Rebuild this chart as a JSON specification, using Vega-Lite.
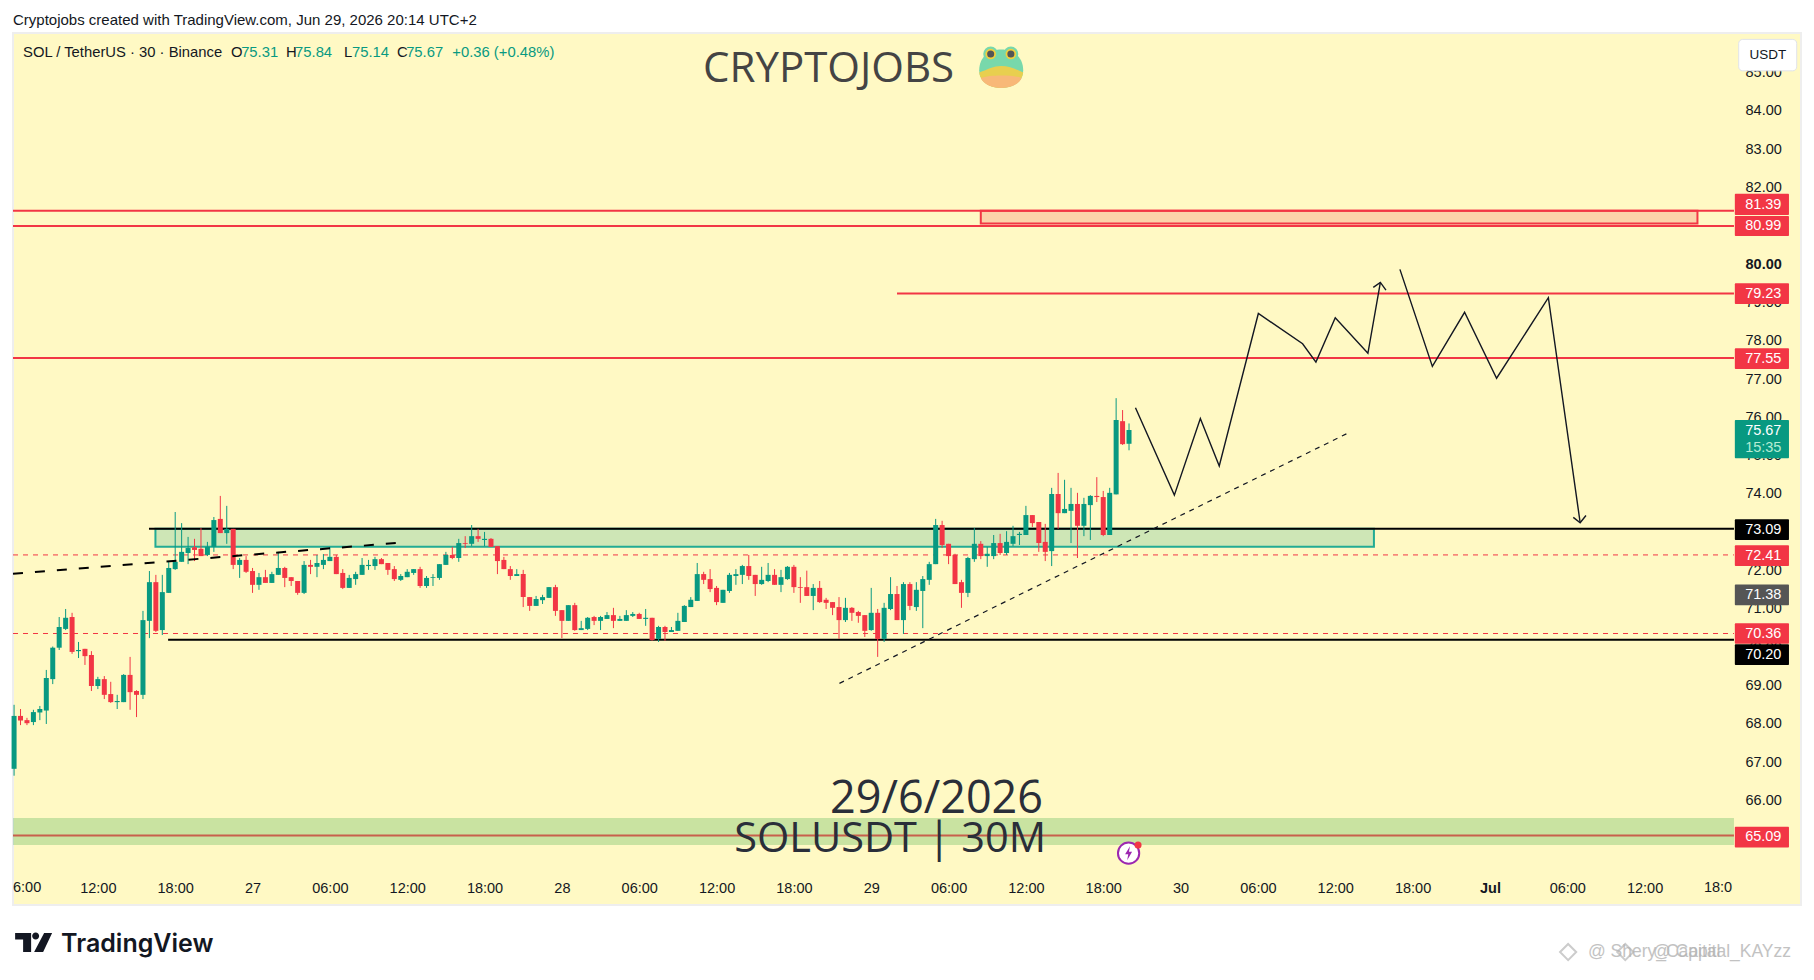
{
  "$schema": "https://vega.github.io/schema/vega-lite/v6.json",
  "autosize": {"type": "none"},
  "padding": {"left": 13, "top": 33, "right": 13, "bottom": 75},
  "width": 1788,
  "height": 872,
  "background": "#ffffff",
  "view": {"fill": "#fff9c4", "stroke": "#eeeeee", "strokeWidth": 2},
  "config": {"font": "Liberation Sans"},
  "datasets": {
    "candles": [
      {"t":"2026-06-26T05:30Z","o":66.83,"h":68.50,"l":66.65,"c":68.21},
      {"t":"2026-06-26T06:00Z","o":68.21,"h":68.39,"l":67.97,"c":68.09},
      {"t":"2026-06-26T06:30Z","o":68.10,"h":68.16,"l":67.97,"c":68.02},
      {"t":"2026-06-26T07:00Z","o":68.05,"h":68.37,"l":67.97,"c":68.31},
      {"t":"2026-06-26T07:30Z","o":68.30,"h":68.47,"l":68.10,"c":68.39},
      {"t":"2026-06-26T08:00Z","o":68.35,"h":69.41,"l":68.00,"c":69.20},
      {"t":"2026-06-26T08:30Z","o":69.17,"h":70.02,"l":69.04,"c":69.99},
      {"t":"2026-06-26T09:00Z","o":69.99,"h":70.79,"l":69.93,"c":70.53},
      {"t":"2026-06-26T09:30Z","o":70.48,"h":71.00,"l":70.45,"c":70.77},
      {"t":"2026-06-26T10:00Z","o":70.79,"h":70.90,"l":69.83,"c":69.88},
      {"t":"2026-06-26T10:30Z","o":69.90,"h":70.14,"l":69.72,"c":69.93},
      {"t":"2026-06-26T11:00Z","o":69.96,"h":69.96,"l":69.54,"c":69.77},
      {"t":"2026-06-26T11:30Z","o":69.80,"h":69.90,"l":68.86,"c":68.99},
      {"t":"2026-06-26T12:00Z","o":68.99,"h":69.23,"l":68.91,"c":69.17},
      {"t":"2026-06-26T12:30Z","o":69.17,"h":69.25,"l":68.65,"c":68.76},
      {"t":"2026-06-26T13:00Z","o":68.78,"h":69.10,"l":68.55,"c":68.57},
      {"t":"2026-06-26T13:30Z","o":68.57,"h":68.76,"l":68.39,"c":68.60},
      {"t":"2026-06-26T14:00Z","o":68.57,"h":69.30,"l":68.57,"c":69.28},
      {"t":"2026-06-26T14:30Z","o":69.28,"h":69.75,"l":68.37,"c":68.83},
      {"t":"2026-06-26T15:00Z","o":68.86,"h":68.88,"l":68.18,"c":68.76},
      {"t":"2026-06-26T15:30Z","o":68.76,"h":70.95,"l":68.65,"c":70.71},
      {"t":"2026-06-26T16:00Z","o":70.69,"h":71.99,"l":70.24,"c":71.70},
      {"t":"2026-06-26T16:30Z","o":71.70,"h":71.89,"l":70.40,"c":70.43},
      {"t":"2026-06-26T17:00Z","o":70.45,"h":71.89,"l":70.32,"c":71.44},
      {"t":"2026-06-26T17:30Z","o":71.42,"h":72.23,"l":71.42,"c":72.07},
      {"t":"2026-06-26T18:00Z","o":72.04,"h":73.53,"l":72.02,"c":72.23},
      {"t":"2026-06-26T18:30Z","o":72.23,"h":73.24,"l":72.23,"c":72.49},
      {"t":"2026-06-26T19:00Z","o":72.46,"h":72.88,"l":72.17,"c":72.59},
      {"t":"2026-06-26T19:30Z","o":72.61,"h":72.83,"l":72.25,"c":72.54},
      {"t":"2026-06-26T20:00Z","o":72.57,"h":73.11,"l":72.38,"c":72.38},
      {"t":"2026-06-26T20:30Z","o":72.41,"h":72.75,"l":72.38,"c":72.62},
      {"t":"2026-06-26T21:00Z","o":72.62,"h":73.40,"l":72.49,"c":73.32},
      {"t":"2026-06-26T21:30Z","o":73.35,"h":73.95,"l":72.98,"c":72.98},
      {"t":"2026-06-26T22:00Z","o":72.98,"h":73.69,"l":72.70,"c":73.09},
      {"t":"2026-06-26T22:30Z","o":73.09,"h":73.09,"l":72.04,"c":72.15},
      {"t":"2026-06-26T23:00Z","o":72.15,"h":72.33,"l":71.81,"c":72.28},
      {"t":"2026-06-26T23:30Z","o":72.28,"h":72.38,"l":71.94,"c":71.97},
      {"t":"2026-06-27T00:00Z","o":71.99,"h":72.07,"l":71.42,"c":71.63},
      {"t":"2026-06-27T00:30Z","o":71.63,"h":71.94,"l":71.50,"c":71.83},
      {"t":"2026-06-27T01:00Z","o":71.83,"h":72.02,"l":71.68,"c":71.68},
      {"t":"2026-06-27T01:30Z","o":71.68,"h":71.97,"l":71.68,"c":71.91},
      {"t":"2026-06-27T02:00Z","o":71.89,"h":72.49,"l":71.89,"c":72.07},
      {"t":"2026-06-27T02:30Z","o":72.07,"h":72.10,"l":71.57,"c":71.81},
      {"t":"2026-06-27T03:00Z","o":71.83,"h":71.83,"l":71.60,"c":71.73},
      {"t":"2026-06-27T03:30Z","o":71.73,"h":71.73,"l":71.37,"c":71.42},
      {"t":"2026-06-27T04:00Z","o":71.42,"h":72.25,"l":71.39,"c":72.15},
      {"t":"2026-06-27T04:30Z","o":72.15,"h":72.28,"l":71.91,"c":72.10},
      {"t":"2026-06-27T05:00Z","o":72.10,"h":72.41,"l":71.83,"c":72.20},
      {"t":"2026-06-27T05:30Z","o":72.15,"h":72.43,"l":72.04,"c":72.28},
      {"t":"2026-06-27T06:00Z","o":72.25,"h":72.62,"l":72.25,"c":72.36},
      {"t":"2026-06-27T06:30Z","o":72.36,"h":72.41,"l":71.91,"c":71.91},
      {"t":"2026-06-27T07:00Z","o":71.94,"h":72.04,"l":71.52,"c":71.55},
      {"t":"2026-06-27T07:30Z","o":71.55,"h":71.89,"l":71.55,"c":71.81},
      {"t":"2026-06-27T08:00Z","o":71.78,"h":71.97,"l":71.63,"c":71.91},
      {"t":"2026-06-27T08:30Z","o":71.89,"h":72.33,"l":71.89,"c":72.15},
      {"t":"2026-06-27T09:00Z","o":72.12,"h":72.28,"l":72.02,"c":72.15},
      {"t":"2026-06-27T09:30Z","o":72.12,"h":72.36,"l":72.02,"c":72.30},
      {"t":"2026-06-27T10:00Z","o":72.30,"h":72.33,"l":72.17,"c":72.17},
      {"t":"2026-06-27T10:30Z","o":72.20,"h":72.20,"l":71.89,"c":72.02},
      {"t":"2026-06-27T11:00Z","o":72.04,"h":72.12,"l":71.73,"c":71.78},
      {"t":"2026-06-27T11:30Z","o":71.76,"h":71.91,"l":71.73,"c":71.86},
      {"t":"2026-06-27T12:00Z","o":71.83,"h":72.04,"l":71.83,"c":71.97},
      {"t":"2026-06-27T12:30Z","o":71.94,"h":72.04,"l":71.89,"c":72.04},
      {"t":"2026-06-27T13:00Z","o":72.04,"h":72.10,"l":71.55,"c":71.60},
      {"t":"2026-06-27T13:30Z","o":71.60,"h":71.86,"l":71.55,"c":71.81},
      {"t":"2026-06-27T14:00Z","o":71.81,"h":71.91,"l":71.60,"c":71.83},
      {"t":"2026-06-27T14:30Z","o":71.81,"h":72.17,"l":71.76,"c":72.17},
      {"t":"2026-06-27T15:00Z","o":72.15,"h":72.49,"l":72.15,"c":72.41},
      {"t":"2026-06-27T15:30Z","o":72.41,"h":72.62,"l":72.30,"c":72.33},
      {"t":"2026-06-27T16:00Z","o":72.33,"h":72.83,"l":72.23,"c":72.72},
      {"t":"2026-06-27T16:30Z","o":72.72,"h":72.90,"l":72.59,"c":72.70},
      {"t":"2026-06-27T17:00Z","o":72.70,"h":73.19,"l":72.64,"c":72.90},
      {"t":"2026-06-27T17:30Z","o":72.90,"h":73.09,"l":72.75,"c":72.83},
      {"t":"2026-06-27T18:00Z","o":72.80,"h":73.01,"l":72.64,"c":72.83},
      {"t":"2026-06-27T18:30Z","o":72.83,"h":72.85,"l":72.62,"c":72.62},
      {"t":"2026-06-27T19:00Z","o":72.64,"h":72.64,"l":71.91,"c":72.25},
      {"t":"2026-06-27T19:30Z","o":72.28,"h":72.36,"l":72.04,"c":72.04},
      {"t":"2026-06-27T20:00Z","o":72.04,"h":72.12,"l":71.76,"c":71.86},
      {"t":"2026-06-27T20:30Z","o":71.86,"h":72.04,"l":71.86,"c":71.91},
      {"t":"2026-06-27T21:00Z","o":71.91,"h":72.02,"l":71.05,"c":71.31},
      {"t":"2026-06-27T21:30Z","o":71.31,"h":71.31,"l":70.95,"c":71.08},
      {"t":"2026-06-27T22:00Z","o":71.08,"h":71.34,"l":71.08,"c":71.26},
      {"t":"2026-06-27T22:30Z","o":71.23,"h":71.37,"l":71.13,"c":71.31},
      {"t":"2026-06-27T23:00Z","o":71.29,"h":71.57,"l":71.29,"c":71.57},
      {"t":"2026-06-27T23:30Z","o":71.57,"h":71.63,"l":70.82,"c":70.95},
      {"t":"2026-06-28T00:00Z","o":70.97,"h":70.97,"l":70.24,"c":70.69},
      {"t":"2026-06-28T00:30Z","o":70.69,"h":71.10,"l":70.69,"c":71.10},
      {"t":"2026-06-28T01:00Z","o":71.10,"h":71.16,"l":70.43,"c":70.45},
      {"t":"2026-06-28T01:30Z","o":70.45,"h":70.69,"l":70.45,"c":70.50},
      {"t":"2026-06-28T02:00Z","o":70.48,"h":70.79,"l":70.45,"c":70.77},
      {"t":"2026-06-28T02:30Z","o":70.79,"h":70.82,"l":70.58,"c":70.69},
      {"t":"2026-06-28T03:00Z","o":70.69,"h":70.82,"l":70.45,"c":70.79},
      {"t":"2026-06-28T03:30Z","o":70.74,"h":70.92,"l":70.74,"c":70.84},
      {"t":"2026-06-28T04:00Z","o":70.84,"h":71.03,"l":70.50,"c":70.69},
      {"t":"2026-06-28T04:30Z","o":70.69,"h":70.82,"l":70.69,"c":70.74},
      {"t":"2026-06-28T05:00Z","o":70.69,"h":70.97,"l":70.69,"c":70.84},
      {"t":"2026-06-28T05:30Z","o":70.82,"h":70.92,"l":70.79,"c":70.87},
      {"t":"2026-06-28T06:00Z","o":70.87,"h":70.90,"l":70.74,"c":70.74},
      {"t":"2026-06-28T06:30Z","o":70.74,"h":71.00,"l":70.56,"c":70.77},
      {"t":"2026-06-28T07:00Z","o":70.77,"h":70.77,"l":70.17,"c":70.19},
      {"t":"2026-06-28T07:30Z","o":70.22,"h":70.56,"l":70.14,"c":70.53},
      {"t":"2026-06-28T08:00Z","o":70.53,"h":70.56,"l":70.17,"c":70.40},
      {"t":"2026-06-28T08:30Z","o":70.40,"h":70.53,"l":70.40,"c":70.45},
      {"t":"2026-06-28T09:00Z","o":70.43,"h":70.90,"l":70.43,"c":70.69},
      {"t":"2026-06-28T09:30Z","o":70.66,"h":71.10,"l":70.66,"c":71.08},
      {"t":"2026-06-28T10:00Z","o":71.05,"h":71.31,"l":71.05,"c":71.24},
      {"t":"2026-06-28T10:30Z","o":71.21,"h":72.20,"l":71.21,"c":71.91},
      {"t":"2026-06-28T11:00Z","o":71.91,"h":71.97,"l":71.65,"c":71.76},
      {"t":"2026-06-28T11:30Z","o":71.78,"h":72.04,"l":71.44,"c":71.52},
      {"t":"2026-06-28T12:00Z","o":71.55,"h":71.60,"l":71.10,"c":71.18},
      {"t":"2026-06-28T12:30Z","o":71.16,"h":71.50,"l":71.16,"c":71.50},
      {"t":"2026-06-28T13:00Z","o":71.47,"h":71.94,"l":71.42,"c":71.89},
      {"t":"2026-06-28T13:30Z","o":71.86,"h":72.04,"l":71.63,"c":71.91},
      {"t":"2026-06-28T14:00Z","o":71.89,"h":72.15,"l":71.65,"c":72.12},
      {"t":"2026-06-28T14:30Z","o":72.12,"h":72.41,"l":71.76,"c":71.86},
      {"t":"2026-06-28T15:00Z","o":71.89,"h":71.89,"l":71.34,"c":71.65},
      {"t":"2026-06-28T15:30Z","o":71.65,"h":72.10,"l":71.63,"c":71.76},
      {"t":"2026-06-28T16:00Z","o":71.73,"h":72.20,"l":71.70,"c":71.89},
      {"t":"2026-06-28T16:30Z","o":71.89,"h":72.04,"l":71.63,"c":71.63},
      {"t":"2026-06-28T17:00Z","o":71.63,"h":72.02,"l":71.44,"c":71.83},
      {"t":"2026-06-28T17:30Z","o":71.78,"h":72.12,"l":71.76,"c":72.10},
      {"t":"2026-06-28T18:00Z","o":72.10,"h":72.15,"l":71.42,"c":71.57},
      {"t":"2026-06-28T18:30Z","o":71.57,"h":71.83,"l":71.16,"c":71.55},
      {"t":"2026-06-28T19:00Z","o":71.57,"h":72.00,"l":71.34,"c":71.34},
      {"t":"2026-06-28T19:30Z","o":71.34,"h":71.65,"l":70.97,"c":71.55},
      {"t":"2026-06-28T20:00Z","o":71.55,"h":71.73,"l":71.16,"c":71.18},
      {"t":"2026-06-28T20:30Z","o":71.24,"h":71.29,"l":71.00,"c":71.16},
      {"t":"2026-06-28T21:00Z","o":71.18,"h":71.18,"l":70.84,"c":71.03},
      {"t":"2026-06-28T21:30Z","o":71.05,"h":71.31,"l":70.22,"c":70.71},
      {"t":"2026-06-28T22:00Z","o":70.71,"h":71.29,"l":70.66,"c":71.03},
      {"t":"2026-06-28T22:30Z","o":71.03,"h":71.05,"l":70.69,"c":70.90},
      {"t":"2026-06-28T23:00Z","o":70.92,"h":70.95,"l":70.64,"c":70.82},
      {"t":"2026-06-28T23:30Z","o":70.84,"h":70.84,"l":70.27,"c":70.43},
      {"t":"2026-06-29T00:00Z","o":70.45,"h":71.55,"l":70.43,"c":70.90},
      {"t":"2026-06-29T00:30Z","o":70.90,"h":71.00,"l":69.75,"c":70.22},
      {"t":"2026-06-29T01:00Z","o":70.22,"h":71.16,"l":70.14,"c":71.03},
      {"t":"2026-06-29T01:30Z","o":71.00,"h":71.83,"l":70.97,"c":71.39},
      {"t":"2026-06-29T02:00Z","o":71.39,"h":71.60,"l":70.71,"c":70.71},
      {"t":"2026-06-29T02:30Z","o":70.71,"h":71.70,"l":70.35,"c":71.65},
      {"t":"2026-06-29T03:00Z","o":71.65,"h":71.70,"l":70.97,"c":71.08},
      {"t":"2026-06-29T03:30Z","o":71.05,"h":71.70,"l":70.95,"c":71.50},
      {"t":"2026-06-29T04:00Z","o":71.47,"h":71.86,"l":70.50,"c":71.78},
      {"t":"2026-06-29T04:30Z","o":71.76,"h":72.23,"l":71.63,"c":72.17},
      {"t":"2026-06-29T05:00Z","o":72.17,"h":73.35,"l":72.17,"c":73.19},
      {"t":"2026-06-29T05:30Z","o":73.19,"h":73.30,"l":72.59,"c":72.67},
      {"t":"2026-06-29T06:00Z","o":72.70,"h":72.70,"l":72.17,"c":72.38},
      {"t":"2026-06-29T06:30Z","o":72.41,"h":72.44,"l":71.65,"c":71.65},
      {"t":"2026-06-29T07:00Z","o":71.70,"h":71.76,"l":71.03,"c":71.42},
      {"t":"2026-06-29T07:30Z","o":71.42,"h":72.36,"l":71.31,"c":72.33},
      {"t":"2026-06-29T08:00Z","o":72.30,"h":73.11,"l":72.23,"c":72.70},
      {"t":"2026-06-29T08:30Z","o":72.70,"h":72.77,"l":72.30,"c":72.38},
      {"t":"2026-06-29T09:00Z","o":72.38,"h":72.62,"l":72.10,"c":72.44},
      {"t":"2026-06-29T09:30Z","o":72.38,"h":72.93,"l":72.30,"c":72.72},
      {"t":"2026-06-29T10:00Z","o":72.72,"h":72.96,"l":72.41,"c":72.46},
      {"t":"2026-06-29T10:30Z","o":72.46,"h":73.03,"l":72.41,"c":72.75},
      {"t":"2026-06-29T11:00Z","o":72.70,"h":73.17,"l":72.64,"c":72.90},
      {"t":"2026-06-29T11:30Z","o":72.93,"h":73.01,"l":72.67,"c":72.96},
      {"t":"2026-06-29T12:00Z","o":72.93,"h":73.69,"l":72.93,"c":73.45},
      {"t":"2026-06-29T12:30Z","o":73.45,"h":73.45,"l":73.14,"c":73.24},
      {"t":"2026-06-29T13:00Z","o":73.27,"h":73.27,"l":72.49,"c":72.72},
      {"t":"2026-06-29T13:30Z","o":72.75,"h":73.22,"l":72.25,"c":72.49},
      {"t":"2026-06-29T14:00Z","o":72.51,"h":74.16,"l":72.12,"c":74.00},
      {"t":"2026-06-29T14:30Z","o":74.00,"h":74.55,"l":73.09,"c":73.50},
      {"t":"2026-06-29T15:00Z","o":73.50,"h":74.37,"l":73.50,"c":73.61},
      {"t":"2026-06-29T15:30Z","o":73.56,"h":74.16,"l":72.72,"c":73.74},
      {"t":"2026-06-29T16:00Z","o":73.74,"h":74.03,"l":72.33,"c":73.17},
      {"t":"2026-06-29T16:30Z","o":73.17,"h":73.90,"l":72.90,"c":73.74},
      {"t":"2026-06-29T17:00Z","o":73.71,"h":73.97,"l":72.80,"c":73.95},
      {"t":"2026-06-29T17:30Z","o":73.95,"h":74.44,"l":73.79,"c":73.92},
      {"t":"2026-06-29T18:00Z","o":73.92,"h":74.08,"l":72.90,"c":72.93},
      {"t":"2026-06-29T18:30Z","o":72.93,"h":74.16,"l":72.93,"c":74.03},
      {"t":"2026-06-29T19:00Z","o":73.99,"h":76.50,"l":73.99,"c":75.93},
      {"t":"2026-06-29T19:30Z","o":75.90,"h":76.19,"l":75.28,"c":75.30},
      {"t":"2026-06-29T20:00Z","o":75.31,"h":75.84,"l":75.14,"c":75.67}
    ],
    "wave": [
      {"leg":"a","t":"2026-06-29T20:30Z","p":76.25},
      {"leg":"a","t":"2026-06-29T23:31Z","p":73.97},
      {"leg":"a","t":"2026-06-30T01:32Z","p":75.97},
      {"leg":"a","t":"2026-06-30T03:00Z","p":74.73},
      {"leg":"a","t":"2026-06-30T06:02Z","p":78.71},
      {"leg":"a","t":"2026-06-30T09:28Z","p":77.92},
      {"leg":"a","t":"2026-06-30T10:30Z","p":77.44},
      {"leg":"a","t":"2026-06-30T12:00Z","p":78.60},
      {"leg":"a","t":"2026-06-30T14:32Z","p":77.67},
      {"leg":"a","t":"2026-06-30T15:30Z","p":79.52},
      {"leg":"a-head","t":"2026-06-30T14:57Z","p":79.39},
      {"leg":"a-head","t":"2026-06-30T15:30Z","p":79.52},
      {"leg":"a-head","t":"2026-06-30T15:56Z","p":79.32},
      {"leg":"b","t":"2026-06-30T17:01Z","p":79.86},
      {"leg":"b","t":"2026-06-30T19:32Z","p":77.33},
      {"leg":"b","t":"2026-06-30T22:02Z","p":78.74},
      {"leg":"b","t":"2026-07-01T00:31Z","p":77.02},
      {"leg":"b","t":"2026-07-01T04:32Z","p":79.12},
      {"leg":"b","t":"2026-07-01T07:00Z","p":73.25},
      {"leg":"b-head","t":"2026-07-01T06:28Z","p":73.39},
      {"leg":"b-head","t":"2026-07-01T07:00Z","p":73.25},
      {"leg":"b-head","t":"2026-07-01T07:27Z","p":73.44}
    ]
  },
  "encoding": {
    "x": {
      "field": "t",
      "type": "temporal",
      "title": null,
      "scale": {"type": "utc", "padding": 0, "domain": ["2026-06-26T05:25:00Z", "2026-07-02T00:08:00Z"]},
      "axis": {
        "orient": "bottom",
        "offset": -17,
        "domain": false,
        "ticks": false,
        "grid": false,
        "labelPadding": 0,
        "labelBaseline": "middle",
        "labelFontSize": 14.5,
        "labelColor": "#131722",
        "labelOverlap": false,
        "labelFlush": false,
        "labelBound": false,
        "labelFontWeight": {"condition": {"test": "utcdate(datum.value) === 1 && utchours(datum.value) === 0", "value": "bold"}, "value": "normal"},
        "values": [
          "2026-06-26T12:00:00Z","2026-06-26T18:00:00Z","2026-06-27T00:00:00Z","2026-06-27T06:00:00Z","2026-06-27T12:00:00Z","2026-06-27T18:00:00Z",
          "2026-06-28T00:00:00Z","2026-06-28T06:00:00Z","2026-06-28T12:00:00Z","2026-06-28T18:00:00Z",
          "2026-06-29T00:00:00Z","2026-06-29T06:00:00Z","2026-06-29T12:00:00Z","2026-06-29T18:00:00Z",
          "2026-06-30T00:00:00Z","2026-06-30T06:00:00Z","2026-06-30T12:00:00Z","2026-06-30T18:00:00Z",
          "2026-07-01T00:00:00Z","2026-07-01T06:00:00Z","2026-07-01T12:00:00Z"
        ],
        "labelExpr": "utchours(datum.value) === 0 ? (utcdate(datum.value) === 1 ? 'Jul' : '' + utcdate(datum.value)) : utcFormat(datum.value, '%H:%M')"
      }
    },
    "y": {
      "field": "p",
      "type": "quantitative",
      "title": null,
      "scale": {"domain": [63.277, 86.027], "nice": false, "zero": false},
      "axis": {
        "orient": "right",
        "offset": -56,
        "domain": false,
        "ticks": false,
        "grid": false,
        "labelPadding": 0,
        "labelAlign": "left",
        "labelFontSize": 14.5,
        "labelColor": "#131722",
        "labelOverlap": false,
        "labelFlush": false,
        "labelBound": false,
        "labelFontWeight": {"condition": {"test": "datum.value === 80", "value": "bold"}, "value": "normal"},
        "format": ".2f",
        "values": [66,67,68,69,70,71,72,73,74,75,76,77,78,79,80,81,82,83,84,85]
      }
    }
  },
  "layer": [
    {
      "data": {"values": [{"t":"2026-06-26T05:25Z","t2":"2026-07-01T18:56Z","p":65.55,"p2":64.84}], "format": {"parse": {"t":"date","t2":"date"}}},
      "mark": {"type": "rect", "fill": "#4caf50", "fillOpacity": 0.3},
      "encoding": {"x2": {"field": "t2"}, "y2": {"field": "p2"}}
    },
    {
      "data": {"values": [{"t":"2026-06-26T16:28Z","t2":"2026-06-30T15:00Z","p":73.09,"p2":72.625}], "format": {"parse": {"t":"date","t2":"date"}}},
      "mark": {"type": "rect", "fill": "#089981", "fillOpacity": 0.2, "stroke": "#22ab94", "strokeWidth": 2},
      "encoding": {"x2": {"field": "t2"}, "y2": {"field": "p2"}}
    },
    {
      "data": {"values": [{"t":"2026-06-29T08:30Z","t2":"2026-07-01T16:06Z","p":81.39,"p2":81.06}], "format": {"parse": {"t":"date","t2":"date"}}},
      "mark": {"type": "rect", "fill": "#f23645", "fillOpacity": 0.2, "stroke": "#f23645", "strokeWidth": 2},
      "encoding": {"x2": {"field": "t2"}, "y2": {"field": "p2"}}
    },
    {
      "data": {"values": [
        {"t":"2026-06-26T05:25Z","t2":"2026-07-01T18:56Z","p":81.39},
        {"t":"2026-06-26T05:25Z","t2":"2026-07-01T18:56Z","p":80.99},
        {"t":"2026-06-29T02:00Z","t2":"2026-07-01T18:56Z","p":79.23},
        {"t":"2026-06-26T05:25Z","t2":"2026-07-01T18:56Z","p":77.55}
      ], "format": {"parse": {"t":"date","t2":"date"}}},
      "mark": {"type": "rule", "color": "#f23645", "strokeWidth": 2},
      "encoding": {"x2": {"field": "t2"}}
    },
    {
      "data": {"values": [
        {"t":"2026-06-26T05:25Z","t2":"2026-07-01T18:56Z","p":72.41},
        {"t":"2026-06-26T05:25Z","t2":"2026-07-01T18:56Z","p":70.36}
      ], "format": {"parse": {"t":"date","t2":"date"}}},
      "mark": {"type": "rule", "color": "#f23645", "strokeWidth": 1, "strokeDash": [5, 5]},
      "encoding": {"x2": {"field": "t2"}}
    },
    {
      "data": {"values": [
        {"t":"2026-06-26T15:58Z","t2":"2026-07-01T18:56Z","p":73.09},
        {"t":"2026-06-26T17:27Z","t2":"2026-07-01T18:56Z","p":70.20}
      ], "format": {"parse": {"t":"date","t2":"date"}}},
      "mark": {"type": "rule", "color": "#000000", "strokeWidth": 2},
      "encoding": {"x2": {"field": "t2"}}
    },
    {
      "data": {"values": [{"t":"2026-06-26T05:25Z","t2":"2026-07-01T18:56Z","p":65.09}], "format": {"parse": {"t":"date","t2":"date"}}},
      "mark": {"type": "rule", "color": "#c8604c", "strokeWidth": 2},
      "encoding": {"x2": {"field": "t2"}}
    },
    {
      "data": {"name": "candles"},
      "mark": {"type": "rule", "strokeWidth": 1},
      "encoding": {
        "y": {"field": "l", "type": "quantitative", "title": null, "scale": {"domain": [63.277, 86.027], "nice": false, "zero": false}},
        "y2": {"field": "h"},
        "color": {"condition": {"test": "datum.c >= datum.o", "value": "#089981"}, "value": "#f23645"}
      }
    },
    {
      "data": {"name": "candles"},
      "mark": {"type": "bar", "size": 5},
      "encoding": {
        "y": {"field": "o", "type": "quantitative", "title": null, "scale": {"domain": [63.277, 86.027], "nice": false, "zero": false}},
        "y2": {"field": "c"},
        "color": {"condition": {"test": "datum.c >= datum.o", "value": "#089981"}, "value": "#f23645"}
      }
    },
    {
      "data": {"values": [{"t":"2026-06-26T05:25Z","t2":"2026-06-27T11:08Z","p":71.92,"p2":72.72}], "format": {"parse": {"t":"date","t2":"date"}}},
      "mark": {"type": "rule", "color": "#000000", "strokeWidth": 2, "strokeDash": [10, 12]},
      "encoding": {"x2": {"field": "t2"}, "y2": {"field": "p2"}}
    },
    {
      "data": {"values": [{"t":"2026-06-28T21:32Z","t2":"2026-06-30T12:56Z","p":69.06,"p2":75.58}], "format": {"parse": {"t":"date","t2":"date"}}},
      "mark": {"type": "rule", "color": "#131722", "strokeWidth": 1.2, "strokeDash": [5, 5]},
      "encoding": {"x2": {"field": "t2"}, "y2": {"field": "p2"}}
    },
    {
      "data": {"name": "wave"},
      "mark": {"type": "line", "color": "#131722", "strokeWidth": 1.4},
      "encoding": {"detail": {"field": "leg"}}
    },
    {
      "data": {"values": [
        {"t":"2026-07-01T19:00Z","t2":"2026-07-01T23:12Z","p":81.83,"p2":81.28},
        {"t":"2026-07-01T19:00Z","t2":"2026-07-01T23:12Z","p":81.25,"p2":80.73},
        {"t":"2026-07-01T19:00Z","t2":"2026-07-01T23:12Z","p":79.50,"p2":78.96},
        {"t":"2026-07-01T19:00Z","t2":"2026-07-01T23:12Z","p":77.80,"p2":77.26},
        {"t":"2026-07-01T19:00Z","t2":"2026-07-01T23:12Z","p":72.66,"p2":72.12},
        {"t":"2026-07-01T19:00Z","t2":"2026-07-01T23:12Z","p":70.63,"p2":70.09},
        {"t":"2026-07-01T19:00Z","t2":"2026-07-01T23:12Z","p":65.32,"p2":64.78}
      ], "format": {"parse": {"t":"date","t2":"date"}}},
      "mark": {"type": "rect", "fill": "#f23645", "cornerRadius": 1},
      "encoding": {"x2": {"field": "t2"}, "y2": {"field": "p2"}}
    },
    {
      "data": {"values": [
        {"t":"2026-07-01T19:00Z","t2":"2026-07-01T23:12Z","p":73.34,"p2":72.80},
        {"t":"2026-07-01T19:00Z","t2":"2026-07-01T23:12Z","p":70.08,"p2":69.54}
      ], "format": {"parse": {"t":"date","t2":"date"}}},
      "mark": {"type": "rect", "fill": "#000000", "cornerRadius": 1},
      "encoding": {"x2": {"field": "t2"}, "y2": {"field": "p2"}}
    },
    {
      "data": {"values": [{"t":"2026-07-01T19:00Z","t2":"2026-07-01T23:12Z","p":71.64,"p2":71.10}], "format": {"parse": {"t":"date","t2":"date"}}},
      "mark": {"type": "rect", "fill": "#555555", "cornerRadius": 1},
      "encoding": {"x2": {"field": "t2"}, "y2": {"field": "p2"}}
    },
    {
      "data": {"values": [{"t":"2026-07-01T19:00Z","t2":"2026-07-01T23:12Z","p":75.93,"p2":74.93}], "format": {"parse": {"t":"date","t2":"date"}}},
      "mark": {"type": "rect", "fill": "#089981", "cornerRadius": 1},
      "encoding": {"x2": {"field": "t2"}, "y2": {"field": "p2"}}
    },
    {
      "data": {"values": [
        {"label":"81.39","t":"2026-07-01T19:48Z","p":81.55},
        {"label":"80.99","t":"2026-07-01T19:48Z","p":80.99},
        {"label":"79.23","t":"2026-07-01T19:48Z","p":79.23},
        {"label":"77.55","t":"2026-07-01T19:48Z","p":77.53},
        {"label":"75.67","t":"2026-07-01T19:48Z","p":75.64},
        {"label":"73.09","t":"2026-07-01T19:48Z","p":73.07},
        {"label":"72.41","t":"2026-07-01T19:48Z","p":72.39},
        {"label":"71.38","t":"2026-07-01T19:48Z","p":71.37},
        {"label":"70.36","t":"2026-07-01T19:48Z","p":70.36},
        {"label":"70.20","t":"2026-07-01T19:48Z","p":69.81},
        {"label":"65.09","t":"2026-07-01T19:48Z","p":65.05}
      ], "format": {"parse": {"t":"date"}}},
      "mark": {"type": "text", "align": "left", "baseline": "middle", "fontSize": 14.5, "color": "#ffffff"},
      "encoding": {"text": {"field": "label"}}
    },
    {
      "data": {"values": [{"label":"15:35","t":"2026-07-01T19:48Z","p":75.21}], "format": {"parse": {"t":"date"}}},
      "mark": {"type": "text", "align": "left", "baseline": "middle", "fontSize": 14.5, "color": "#b5ecd4"},
      "encoding": {"text": {"field": "label"}}
    },
    {
      "data": {"values": [{"t":"2026-07-01T19:18Z","t2":"2026-07-01T23:48Z","p":85.86,"p2":85.04}], "format": {"parse": {"t":"date","t2":"date"}}},
      "mark": {"type": "rect", "fill": "#ffffff", "stroke": "#e0e3eb", "strokeWidth": 1, "cornerRadius": 4},
      "encoding": {"x2": {"field": "t2"}, "y2": {"field": "p2"}}
    },
    {
      "data": {"values": [{"label":"USDT","t":"2026-07-01T21:34Z","p":85.46}], "format": {"parse": {"t":"date"}}},
      "mark": {"type": "text", "align": "center", "baseline": "middle", "fontSize": 13.5, "color": "#131722"},
      "encoding": {"text": {"field": "label"}}
    },
    {
      "data": {"values": [
        {"label":"6:00","t":"2026-06-26T05:25Z","p":63.73},
        {"label":"18:0","t":"2026-07-01T16:36Z","p":63.73}
      ], "format": {"parse": {"t":"date"}}},
      "mark": {"type": "text", "align": "left", "baseline": "middle", "fontSize": 14.5, "color": "#131722"},
      "encoding": {"text": {"field": "label"}}
    },
    {
      "data": {"values": [{"label":"Cryptojobs created with TradingView.com, Jun 29, 2026 20:14 UTC+2","t":"2026-06-26T05:25Z","p":86.37}], "format": {"parse": {"t":"date"}}},
      "mark": {"type": "text", "align": "left", "baseline": "middle", "fontSize": 15, "color": "#131722"},
      "encoding": {"text": {"field": "label"}}
    },
    {
      "data": {"values": [
        {"label":"SOL / TetherUS · 30 · Binance","t":"2026-06-26T06:12Z","p":85.51},
        {"label":"O","t":"2026-06-26T22:20Z","p":85.51},
        {"label":"H","t":"2026-06-27T02:36Z","p":85.51},
        {"label":"L","t":"2026-06-27T07:06Z","p":85.51},
        {"label":"C","t":"2026-06-27T11:13Z","p":85.51}
      ], "format": {"parse": {"t":"date"}}},
      "mark": {"type": "text", "align": "left", "baseline": "middle", "fontSize": 14.8, "color": "#131722"},
      "encoding": {"text": {"field": "label"}}
    },
    {
      "data": {"values": [
        {"label":"75.31","t":"2026-06-26T23:07Z","p":85.51},
        {"label":"75.84","t":"2026-06-27T03:18Z","p":85.51},
        {"label":"75.14","t":"2026-06-27T07:43Z","p":85.51},
        {"label":"75.67","t":"2026-06-27T11:55Z","p":85.51},
        {"label":"+0.36 (+0.48%)","t":"2026-06-27T15:30Z","p":85.51}
      ], "format": {"parse": {"t":"date"}}},
      "mark": {"type": "text", "align": "left", "baseline": "middle", "fontSize": 14.8, "color": "#089981"},
      "encoding": {"text": {"field": "label"}}
    },
    {
      "data": {"values": [{"label":"CRYPTOJOBS","t":"2026-06-28T10:57Z","p":85.10}], "format": {"parse": {"t":"date"}}},
      "mark": {"type": "text", "font": "Open Sans", "align": "left", "baseline": "middle", "fontSize": 42, "color": "#444444"},
      "encoding": {"text": {"field": "label"}}
    },
    {
      "data": {"values": [{"label":"29/6/2026","t":"2026-06-29T13:20Z","p":66.05}], "format": {"parse": {"t":"date"}}},
      "mark": {"type": "text", "font": "Open Sans", "align": "right", "baseline": "middle", "fontSize": 45, "color": "#2a2e39"},
      "encoding": {"text": {"field": "label"}}
    },
    {
      "data": {"values": [{"label":"SOLUSDT | 30M","t":"2026-06-29T13:34Z","p":64.98}], "format": {"parse": {"t":"date"}}},
      "mark": {"type": "text", "font": "Open Sans", "align": "right", "baseline": "middle", "fontSize": 41.5, "color": "#2a2e39"},
      "encoding": {"text": {"field": "label"}}
    },
    {
      "data": {"values": [{"t":"2026-06-29T10:05Z","p":85.14}], "format": {"parse": {"t":"date"}}},
      "mark": {"type": "point", "filled": true, "opacity": 1, "color": "#78d8ab", "size": 1936, "shape": "M-1,0.15 C-1,-0.5 -0.5,-0.8 0,-0.8 C0.5,-0.8 1,-0.5 1,0.15 C1,0.7 0.5,0.95 0,0.95 C-0.5,0.95 -1,0.7 -1,0.15 Z"}
    },
    {
      "data": {"values": [{"t":"2026-06-29T10:05Z","p":85.14}], "format": {"parse": {"t":"date"}}},
      "mark": {"type": "point", "filled": true, "opacity": 1, "color": "#e8cf4f", "size": 1936, "shape": "M-1,0.25 C-0.6,0.1 -0.35,-0.05 0,-0.05 C0.4,-0.05 0.65,0.1 1,0.25 C0.95,0.7 0.5,0.95 0,0.95 C-0.5,0.95 -0.95,0.7 -1,0.25 Z"}
    },
    {
      "data": {"values": [{"t":"2026-06-29T10:05Z","p":85.14}], "format": {"parse": {"t":"date"}}},
      "mark": {"type": "point", "filled": true, "opacity": 1, "color": "#f8b878", "size": 1936, "shape": "M-0.93,0.5 C-0.5,0.35 0.5,0.35 0.93,0.5 C0.8,0.8 0.4,0.95 0,0.95 C-0.4,0.95 -0.8,0.8 -0.93,0.5 Z"}
    },
    {
      "data": {"values": [{"t":"2026-06-29T09:16Z","p":85.48},{"t":"2026-06-29T10:50Z","p":85.48}], "format": {"parse": {"t":"date"}}},
      "mark": {"type": "point", "filled": true, "opacity": 1, "shape": "circle", "color": "#78d8ab", "size": 220}
    },
    {
      "data": {"values": [{"t":"2026-06-29T09:16Z","p":85.48},{"t":"2026-06-29T10:50Z","p":85.48}], "format": {"parse": {"t":"date"}}},
      "mark": {"type": "point", "filled": true, "opacity": 1, "shape": "circle", "color": "#f2cf3c", "size": 113}
    },
    {
      "data": {"values": [{"t":"2026-06-29T09:16Z","p":85.48},{"t":"2026-06-29T10:50Z","p":85.48}], "format": {"parse": {"t":"date"}}},
      "mark": {"type": "point", "filled": true, "opacity": 1, "shape": "circle", "color": "#555555", "size": 50}
    },
    {
      "data": {"values": [{"t":"2026-06-29T19:58Z","p":64.63}], "format": {"parse": {"t":"date"}}},
      "mark": {"type": "point", "filled": true, "opacity": 1, "shape": "circle", "fill": "#ffffff", "stroke": "#9c27b0", "strokeWidth": 2, "size": 452}
    },
    {
      "data": {"values": [{"t":"2026-06-29T19:58Z","p":64.63}], "format": {"parse": {"t":"date"}}},
      "mark": {"type": "point", "filled": true, "opacity": 1, "color": "#9c27b0", "size": 196, "shape": "M0.2,-1 L-0.5,0.15 L-0.05,0.15 L-0.2,1 L0.5,-0.2 L0.05,-0.2 Z"}
    },
    {
      "data": {"values": [{"t":"2026-06-29T20:42Z","p":64.84}], "format": {"parse": {"t":"date"}}},
      "mark": {"type": "point", "filled": true, "opacity": 1, "shape": "circle", "color": "#f23645", "size": 50}
    },
    {
      "data": {"values": [{"t":"2026-06-26T07:01Z","p":62.31}], "format": {"parse": {"t":"date"}}},
      "mark": {"type": "point", "filled": true, "opacity": 1, "color": "#131722", "size": 1369, "shape": "M-1,-0.486 L-0.135,-0.486 L-0.135,0.54 L-0.568,0.54 L-0.568,-0.135 L-1,-0.135 Z M0.568,-0.486 L1,-0.486 L0.514,0.54 L0.027,0.54 Z M-0.08,-0.324 a0.19,0.19 0 1,0 0.38,0 a0.19,0.19 0 1,0 -0.38,0 Z"}
    },
    {
      "data": {"values": [{"label":"TradingView","t":"2026-06-26T09:09Z","p":62.25}], "format": {"parse": {"t":"date"}}},
      "mark": {"type": "text", "font": "Inter", "fontWeight": 600, "align": "left", "baseline": "middle", "fontSize": 25, "color": "#131722"},
      "encoding": {"text": {"field": "label"}}
    },
    {
      "data": {"values": [{"t":"2026-07-01T06:04Z","p":62.05},{"t":"2026-07-01T10:30Z","p":62.05}], "format": {"parse": {"t":"date"}}},
      "mark": {"type": "point", "filled": false, "opacity": 1, "shape": "diamond", "stroke": "#cccccc", "strokeWidth": 2, "size": 260}
    },
    {
      "data": {"values": [
        {"label":"@ Shery_Capital","t":"2026-07-01T07:36Z","p":62.05},
        {"label":"@ Capital_KAYzz","t":"2026-07-01T12:39Z","p":62.05}
      ], "format": {"parse": {"t":"date"}}},
      "mark": {"type": "text", "align": "left", "baseline": "middle", "fontSize": 17.5, "color": "#b4b4b4", "opacity": 0.8},
      "encoding": {"text": {"field": "label"}}
    }
  ]
}
